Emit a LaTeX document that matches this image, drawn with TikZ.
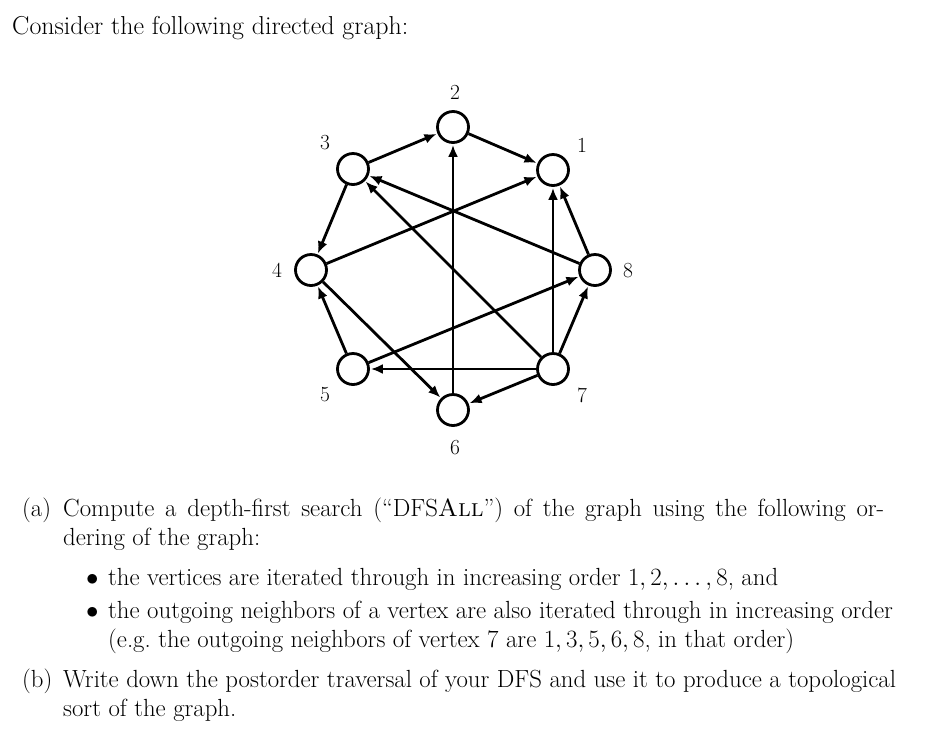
\documentclass[tikz,border=0pt]{standalone}
\usetikzlibrary{arrows.meta}
\begin{document}
\begin{tikzpicture}[x=1pt,y=-1pt,
  vtx/.style={circle,draw,line width=2.8pt,minimum size=31pt,inner sep=0pt},
  lbl/.style={font=\fontsize{21.5}{24}\selectfont},
  txt/.style={anchor=base west,inner sep=0pt,font=\fontsize{24.8}{29}\selectfont},
  edge/.style={line width=2.8pt,-{Latex[length=12pt,width=10pt]},shorten >=1pt}]
\useasboundingbox (0,0) rectangle (945,740);
\node[txt,font=\fontsize{25.9}{29}\selectfont] (t0) at (12,34) {Consider the following directed graph:};
\node[vtx] (v2) at (453,127) {};
\node[vtx] (v1) at (553,170) {};
\node[vtx] (v8) at (595,270) {};
\node[vtx] (v7) at (553,369) {};
\node[vtx] (v6) at (453,410) {};
\node[vtx] (v5) at (353,369) {};
\node[vtx] (v4) at (311,270) {};
\node[vtx] (v3) at (353,169) {};
\node[lbl] (l2) at (455,92) {2};
\node[lbl] (l1) at (582,145) {1};
\node[lbl] (l8) at (628,271) {8};
\node[lbl] (l7) at (582,395) {7};
\node[lbl] (l6) at (455,448) {6};
\node[lbl] (l5) at (325,395) {5};
\node[lbl] (l4) at (277,270) {4};
\node[lbl] (l3) at (325,143) {3};
\draw[edge] (v3) -- (v2);
\draw[edge] (v2) -- (v1);
\draw[edge] (v3) -- (v4);
\draw[edge] (v4) -- (v1);
\draw[edge] (v8) -- (v3);
\draw[edge] (v7) -- (v3);
\draw[edge] (v6) -- (v2);
\draw[edge] (v7) -- (v1);
\draw[edge] (v8) -- (v1);
\draw[edge] (v7) -- (v8);
\draw[edge] (v7) -- (v6);
\draw[edge] (v7) -- (v5);
\draw[edge] (v5) -- (v8);
\draw[edge] (v5) -- (v4);
\draw[edge] (v4) -- (v6);
\node[txt] (a0) at (22,516) {(a)};
\node[txt] (a1) at (63,516) {\makebox[821pt][s]{Compute a depth-first search (``DFS\textsc{All}'') of the graph using the following or-}};
\node[txt] (a2) at (63,545) {dering of the graph:};
\node[txt] (b1) at (86,585) {$\bullet$};
\node[txt] (b1t) at (108,585) {the vertices are iterated through in increasing order $1,2,\ldots,8$, and};
\node[txt] (b2) at (86,618) {$\bullet$};
\node[txt] (b2t) at (108,618) {the outgoing neighbors of a vertex are also iterated through in increasing order};
\node[txt] (b3t) at (108,647) {(e.g.\ the outgoing neighbors of vertex 7 are $1,3,5,6,8$, in that order)};
\node[txt] (c0) at (22,687) {(b)};
\node[txt] (c1) at (63,687) {Write down the postorder traversal of your DFS and use it to produce a topological};
\node[txt] (c2) at (63,716) {sort of the graph.};
\end{tikzpicture}
\end{document}
